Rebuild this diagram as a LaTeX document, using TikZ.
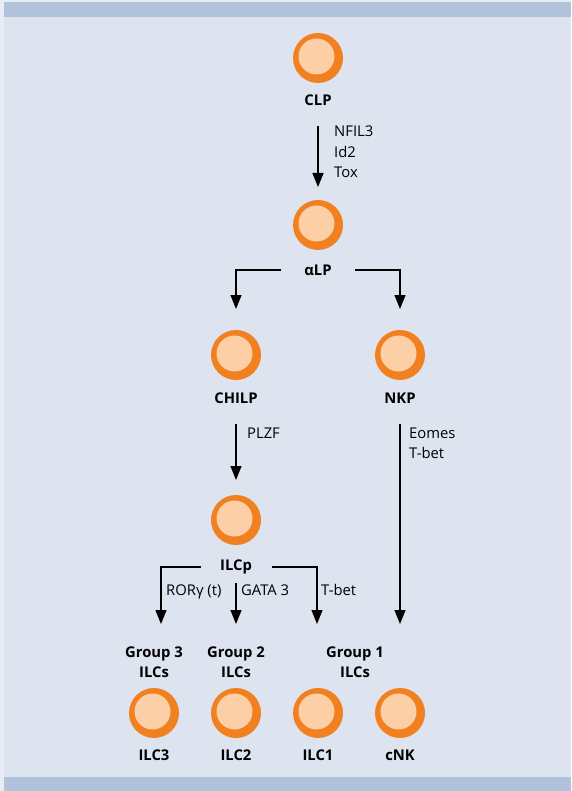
\documentclass[tikz,border=0pt]{standalone}
\usepackage{fontspec}
\setmainfont{Open Sans}
\usetikzlibrary{arrows.meta}
\definecolor{band}{HTML}{B0C2DC}
\definecolor{bg}{HTML}{DDE3EF}
\definecolor{edge}{HTML}{E8ECF5}
\definecolor{ring}{HTML}{F08020}
\definecolor{core}{HTML}{FCCFA6}
\tikzset{
  cell/.style={circle,minimum size=50pt,inner sep=0pt,fill=ring,
    path picture={\fill[core] ([xshift=-1.5pt,yshift=1.5pt]path picture bounding box.center) circle (18pt);}},
  lab/.style={font=\fontsize{14.8}{20}\selectfont\bfseries,inner sep=0pt,align=center},
  txt/.style={font=\fontsize{14.8}{20}\selectfont,inner sep=0pt,anchor=base west},
  arr/.style={line width=1.2pt,-{Triangle[width=11pt,length=14pt]}},
  ln/.style={line width=1.2pt}
}
\begin{document}
\begin{tikzpicture}[x=1pt,y=-1pt]
\useasboundingbox (0,0) rectangle (571,791);
\fill[edge] (0,0) rectangle (571,791);
\fill[bg] (4,2) rectangle (571,791);
\fill[band] (4,2) rectangle (571,17);
\fill[band] (4,777) rectangle (571,791);

% cells
\node[cell] (clp) at (318,58) {};
\node[lab] (clpl) at (318,100) {CLP};
\node[cell] (alp) at (318,225) {};
\node[lab] (alpl) at (318,270) {αLP};
\node[cell] (chilp) at (236,355) {};
\node[lab] (chilpl) at (236,398) {CHILP};
\node[cell] (nkp) at (400,355) {};
\node[lab] (nkpl) at (400,398) {NKP};
\node[cell] (ilcp) at (236,520) {};
\node[lab] (ilcpl) at (236,567) {ILCp};

\node[lab] (g3) at (154,662) {Group 3\\ILCs};
\node[lab] (g2) at (236,662) {Group 2\\ILCs};
\node[lab] (g1) at (355,662) {Group 1\\ILCs};

\node[cell] (ilc3) at (154,713) {};
\node[lab] (ilc3l) at (154,755) {ILC3};
\node[cell] (ilc2) at (236,713) {};
\node[lab] (ilc2l) at (236,755) {ILC2};
\node[cell] (ilc1) at (318,713) {};
\node[lab] (ilc1l) at (318,755) {ILC1};
\node[cell] (cnk) at (400,713) {};
\node[lab] (cnkl) at (400,755) {cNK};

% coordinates
\coordinate (a1) at (318,126);
\coordinate (a2) at (318,187);
\coordinate (b0) at (281,270);
\coordinate (b1) at (236,270);
\coordinate (b2) at (236,309);
\coordinate (c0) at (355,270);
\coordinate (c1) at (400,270);
\coordinate (c2) at (400,309);
\coordinate (d1) at (236,424);
\coordinate (d2) at (236,480);
\coordinate (e1) at (400,424);
\coordinate (e2) at (400,624);
\coordinate (f0) at (201,567);
\coordinate (f1) at (161,567);
\coordinate (f2) at (161,624);
\coordinate (g0) at (236,583);
\coordinate (g9) at (236,624);
\coordinate (h0) at (272,567);
\coordinate (h1) at (317,567);
\coordinate (h2) at (317,624);

\draw[arr] (a1) -- (a2);
\draw[arr] (b0) -- (b1) -- (b2);
\draw[arr] (c0) -- (c1) -- (c2);
\draw[arr] (d1) -- (d2);
\draw[arr] (e1) -- (e2);
\draw[arr] (f0) -- (f1) -- (f2);
\draw[arr] (g0) -- (g9);
\draw[arr] (h0) -- (h1) -- (h2);

% transcription factor labels
\node[txt] (t1) at (334,137) {NFIL3};
\node[txt] (t2) at (334,158) {Id2};
\node[txt] (t3) at (334,178) {Tox};
\node[txt] (t4) at (247,438) {PLZF};
\node[txt] (t5) at (409,438) {Eomes};
\node[txt] (t6) at (409,458) {T-bet};
\node[txt] (t7) at (166,595) {RORγ (t)};
\node[txt] (t8) at (241,595) {GATA 3};
\node[txt] (t9) at (321,595) {T-bet};
\end{tikzpicture}
\end{document}
